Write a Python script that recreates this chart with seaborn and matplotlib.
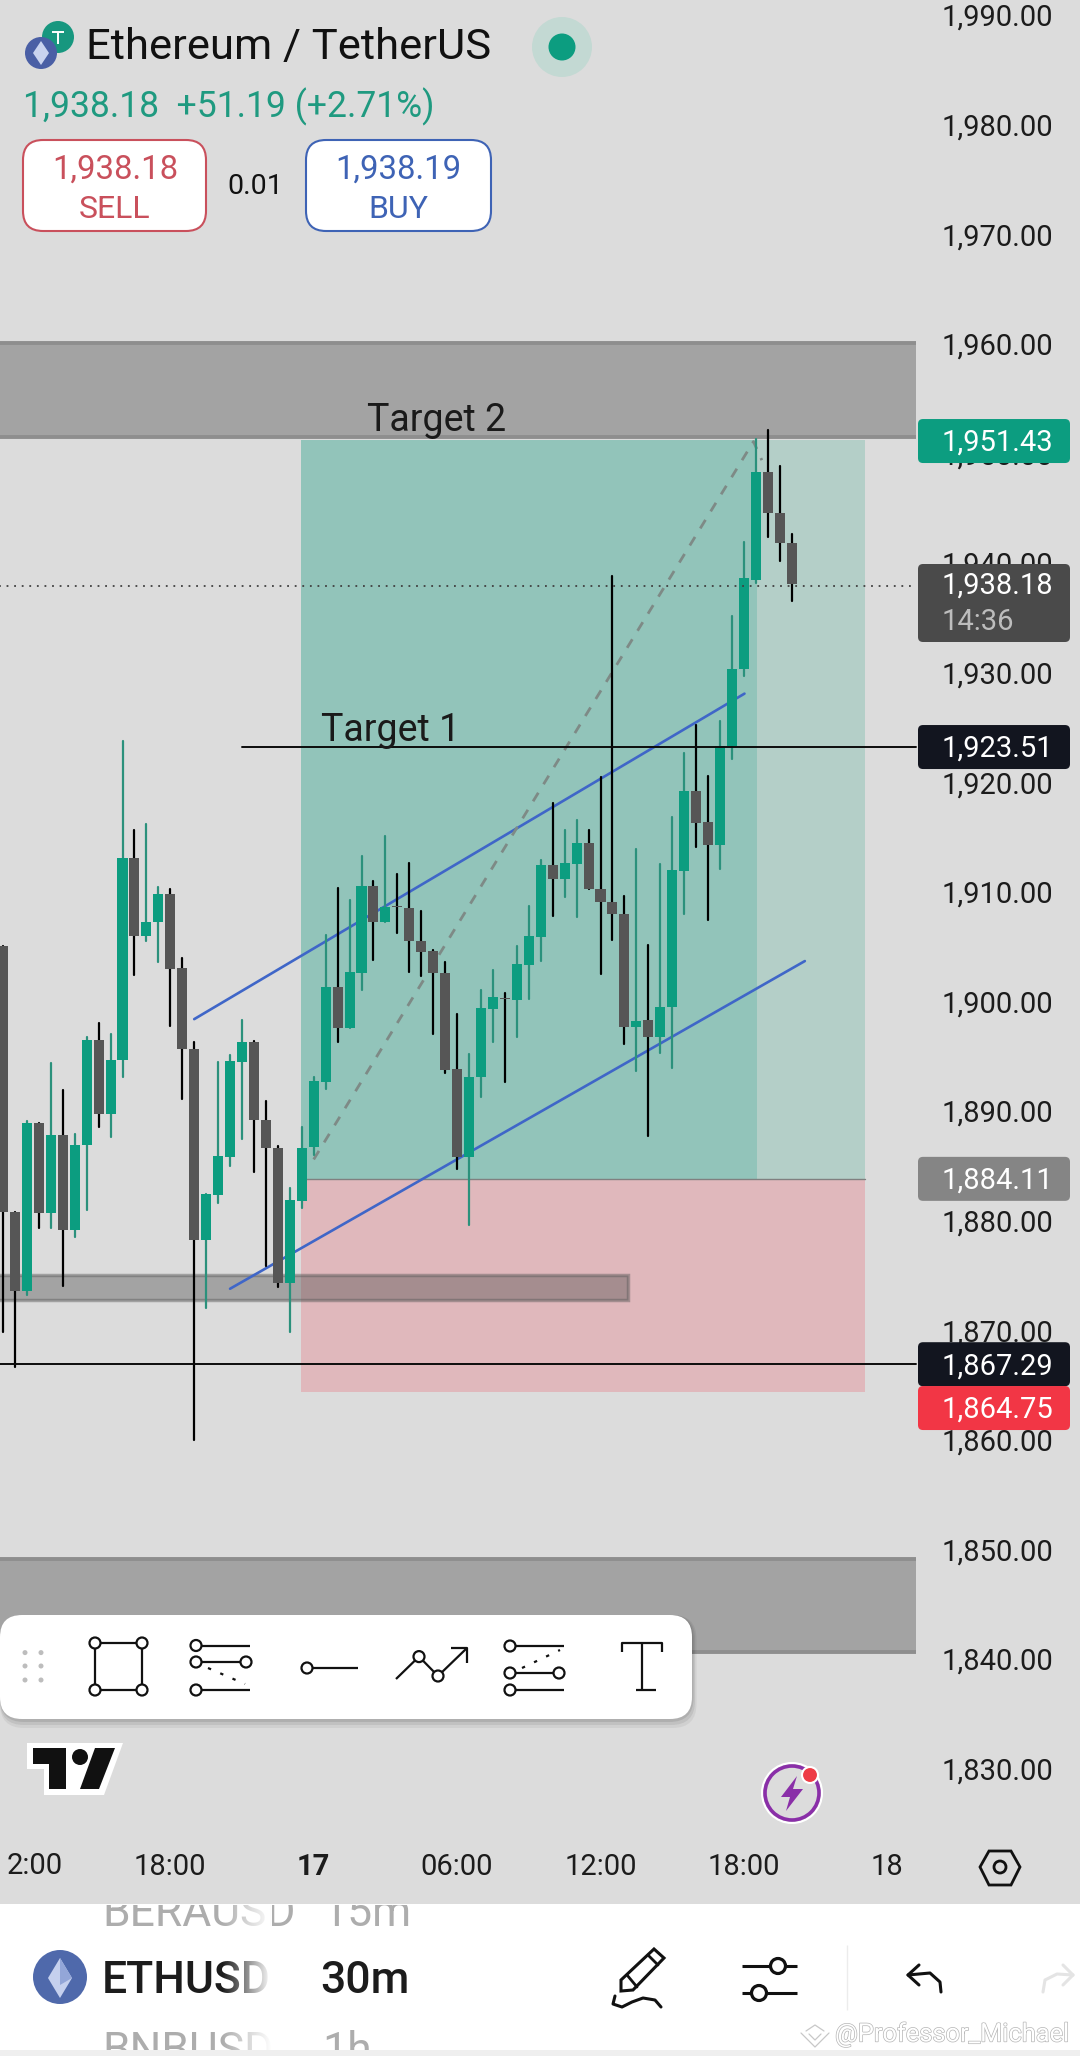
import matplotlib
matplotlib.use('Agg')
import matplotlib.pyplot as plt
import matplotlib.patheffects as pe
from matplotlib.patches import Circle, FancyBboxPatch, Polygon, Rectangle
import numpy as np
import pandas as pd
import seaborn as sns

# 30 minute candles
opens = [1905.14, 1880.90, 1873.70, 1889.01, 1880.78, 1887.95, 1879.24, 1887.01, 1896.59, 1889.87,
         1894.75, 1913.20, 1906.12, 1907.34, 1909.90, 1903.14, 1895.81, 1878.38, 1882.49, 1885.96,
         1894.63, 1896.38, 1889.34, 1886.73, 1874.39, 1881.92, 1886.81, 1892.80, 1901.41, 1897.73,
         1902.74, 1910.65, 1907.34, 1908.83, 1908.61, 1905.66, 1904.69, 1902.74, 1893.92, 1885.89,
         1893.25, 1899.46, 1900.46, 1900.28, 1903.47, 1906.03, 1912.54, 1911.32, 1912.69, 1914.54,
         1910.35, 1909.22, 1908.07, 1897.82, 1898.42, 1896.90, 1899.57, 1912.04, 1919.31, 1916.45,
         1914.42, 1923.42, 1930.42, 1938.57, 1948.43, 1944.72, 1941.98]
highs = [1905.14, 1880.90, 1889.25, 1889.01, 1894.47, 1892.02, 1888.03, 1896.91, 1898.13, 1897.16,
         1923.88, 1915.73, 1916.30, 1910.60, 1910.35, 1904.08, 1896.38, 1882.53, 1894.55, 1895.20,
         1898.42, 1896.50, 1891.05, 1886.89, 1883.06, 1888.64, 1893.25, 1906.15, 1910.44, 1909.37,
         1913.39, 1911.14, 1915.21, 1911.75, 1912.72, 1908.34, 1904.81, 1903.72, 1898.94, 1895.32,
         1901.16, 1902.99, 1900.86, 1905.18, 1908.83, 1913.02, 1918.19, 1915.76, 1916.67, 1915.76,
         1920.57, 1938.90, 1909.74, 1914.00, 1905.26, 1912.65, 1916.90, 1922.75, 1925.33, 1920.68,
         1925.70, 1935.29, 1942.04, 1951.43, 1952.26, 1948.97, 1942.77]
lows = [1869.99, 1866.77, 1873.29, 1879.40, 1879.40, 1874.18, 1878.58, 1881.11, 1888.64, 1887.75,
        1893.25, 1902.57, 1905.63, 1903.71, 1897.89, 1891.21, 1860.13, 1872.15, 1881.68, 1885.10,
        1887.54, 1884.57, 1875.98, 1874.02, 1869.91, 1881.31, 1886.11, 1892.16, 1896.45, 1897.73,
        1901.16, 1903.90, 1907.34, 1906.39, 1902.83, 1902.44, 1897.15, 1893.62, 1884.80, 1879.75,
        1891.43, 1896.42, 1892.77, 1896.90, 1900.37, 1903.84, 1907.94, 1909.65, 1907.85, 1910.35,
        1902.62, 1905.72, 1896.24, 1893.80, 1887.84, 1895.38, 1894.01, 1908.09, 1914.20, 1907.54,
        1912.20, 1922.27, 1929.81, 1938.33, 1942.53, 1940.34, 1936.66]
closes = [1880.90, 1873.70, 1889.01, 1880.78, 1887.95, 1879.24, 1887.01, 1896.59, 1889.87, 1894.75,
          1913.20, 1906.12, 1907.34, 1909.90, 1903.10, 1895.81, 1878.38, 1882.53, 1885.99, 1894.67,
          1896.38, 1889.34, 1886.73, 1874.39, 1882.00, 1886.73, 1892.86, 1901.41, 1897.73, 1902.77,
          1910.65, 1907.40, 1908.70, 1908.70, 1905.66, 1904.66, 1902.74, 1893.86, 1885.89, 1893.19,
          1899.49, 1900.49, 1900.34, 1903.50, 1906.09, 1912.54, 1911.32, 1912.72, 1914.54, 1910.35,
          1909.22, 1908.07, 1897.82, 1898.36, 1896.90, 1899.57, 1912.11, 1919.31, 1916.42, 1914.42,
          1923.42, 1930.45, 1938.75, 1948.43, 1944.72, 1941.98, 1938.18]

price_ticks = [1990, 1980, 1970, 1960, 1950, 1940, 1930, 1920, 1910, 1900, 1890, 1880, 1870, 1860, 1850, 1840, 1830]
time_ticks = [14, 26, 38, 50, 62, 74]
time_labels = ['18:00', '17', '06:00', '12:00', '18:00', '18']

tag_prices = [1951.43, 1923.51, 1884.11, 1867.29, 1864.75]
tag_colors = ['#0c9d80', '#12151f', '#858585', '#12151f', '#f23645']
tag_nudge = [2, 2, 2, 3, 19]
last_price = 1938.18

# levels as they lie on the picture's scale
last_level = 1938.0
target_1 = 1923.33
stop_line = 1867.05
pos_top, pos_entry, pos_stop = 1951.33, 1883.93, 1864.5

BG = '#dcdcdc'
GREEN = '#0c9d80'
GREEN_WICK = '#2b917c'
GREY_BODY = '#565656'
BLUE = '#3f66c8'
INK = '#111111'
PX_PER_PRICE = 10.96
PX_PER_BAR = 11.95


def py(price):
    return 1002.7 - (price - 1900) * PX_PER_PRICE


sns.set_theme(style='white', rc={'axes.facecolor': BG, 'figure.facecolor': BG})
plt.rcParams['font.family'] = ['Roboto', 'DejaVu Sans']
plt.rcParams['patch.force_edgecolor'] = False

fig = plt.figure(figsize=(10.8, 20.56), dpi=100)
ax = fig.add_axes([0, 0, 1, 1])
ax.set_xlim(-3 / PX_PER_BAR, 1077 / PX_PER_BAR)
ax.set_ylim(1900 - (2056 - 1002.7) / PX_PER_PRICE, 1900 + 1002.7 / PX_PER_PRICE)
chart_right = 913 / PX_PER_BAR

# zones and the long position
for low, high in [(1951.6, 1960.2), (1840.8, 1849.2)]:
    ax.add_patch(Rectangle((-1, low), chart_right + 1, high - low, fc='#a3a3a3', lw=0, zorder=1))
    ax.plot([-1, chart_right], [low, low], color='#8e8e8e', lw=2.8, solid_capstyle='butt', zorder=1.1)
    ax.plot([-1, chart_right], [high, high], color='#8e8e8e', lw=2.8, solid_capstyle='butt', zorder=1.1)
ax.add_patch(Rectangle((24.9, pos_entry), 38.2, pos_top - pos_entry, fc='#92c4ba', lw=0, zorder=1))
ax.add_patch(Rectangle((63.1, pos_entry), 9.0, pos_top - pos_entry, fc='#b4cfc8', lw=0, zorder=1))
ax.add_patch(Rectangle((24.9, pos_stop), 47.2, pos_entry - pos_stop, fc='#e0b8bc', lw=0, zorder=1))
ax.plot([24.9, 72.1], [pos_entry, pos_entry], color='#808080', lw=1, zorder=1.5)
ax.add_patch(Rectangle((-1, 1872.9), 53.3, 2.3, fc=(0.29, 0.29, 0.29, 0.39), ec=(0.35, 0.35, 0.35, 0.45), lw=2.5, zorder=1.6))

# channel and the dashed path
ax.plot([16, 62.05], [1898.5, 1928.2], color=BLUE, lw=1.9, zorder=2)
ax.plot([19, 67.1], [1873.9, 1903.8], color=BLUE, lw=1.9, zorder=2)
ax.plot([26, 62.8, 63.5], [1885.7, 1951.2, 1949.5], color='#7e8a86', lw=2, ls=(0, (3.6, 3.6)), zorder=2)

# candles: wicks through seaborn, bodies as bars
idx = np.arange(len(opens))
is_up = np.array(closes) >= np.array(opens)
wicks = pd.DataFrame({
    'i': np.tile(idx, 2),
    'price': lows + highs,
    'side': np.tile(np.where(is_up, 'up', 'down'), 2),
})
sns.lineplot(data=wicks, x='i', y='price', units='i', estimator=None, hue='side',
             palette={'up': GREEN_WICK, 'down': '#000000'}, linewidth=1.6, legend=False,
             sort=False, ax=ax, zorder=3)
bottoms = np.minimum(opens, closes)
heights = np.abs(np.array(closes) - np.array(opens))
ax.bar(idx, heights, bottom=bottoms, width=0.84, color=np.where(is_up, GREEN, GREY_BODY), lw=0, zorder=3.5)

# horizontal lines
ax.plot([20, chart_right], [target_1, target_1], color='#0c0c0c', lw=1.4, zorder=4)
ax.plot([-1, chart_right], [stop_line, stop_line], color='#0c0c0c', lw=1.4, zorder=4)
ax.plot([-1, chart_right], [last_level, last_level], color='#404040', lw=1.3, ls=(0, (1, 3.2)), zorder=4)
ax.text(36.3, 1953.15, 'Target 2', fontsize=27, color='#1a1a1a', ha='center', va='center', zorder=5)
ax.text(32.4, 1924.85, 'Target 1', fontsize=27, color='#1a1a1a', ha='center', va='center', zorder=5)

# axes
ax.yaxis.tick_right()
ax.set_yticks(np.array(price_ticks) + 0.12, [f'{p:,.2f}' for p in price_ticks])
ax.set_xticks(time_ticks, time_labels)
ax.tick_params(axis='y', length=0, pad=-99.4, labelsize=21, labelcolor='#1c1c1c')
ax.tick_params(axis='x', length=0, pad=-146, labelsize=21, labelcolor='#1c1c1c')
ax.get_xticklabels()[1].set_fontweight('bold')
ax.set_xlabel('')
ax.set_ylabel('')
sns.despine(ax=ax, left=True, right=True, top=True, bottom=True)

# everything of the app around the chart, in pixels
ui = fig.add_axes([0, 0, 1, 1], zorder=5)
ui.set_xlim(0, 1080)
ui.set_ylim(2056, 0)
ui.axis('off')


def box(x, y, w, h, r, fc, ec='none', lw=0, z=6):
    ui.add_patch(FancyBboxPatch((x, y), w, h, boxstyle=f'round,pad=0,rounding_size={r}', fc=fc, ec=ec, lw=lw, zorder=z))


def label(x, y, s, size, color, ha='center', **kw):
    return ui.text(x, y + 2, s, fontsize=size, color=color, ha=ha, va='center', zorder=9, **kw)


def stroke(xs, ys, lw=1.6, color=INK, **kw):
    ui.plot(xs, ys, color=color, lw=lw, solid_capstyle='butt', zorder=8, **kw)


def knob(x, y, r=5.5, lw=1.6):
    ui.add_patch(Circle((x, y), r, fc='white', ec=INK, lw=lw, zorder=8.5))


# price tags
label(35, 1864, '2:00', 21, '#1c1c1c')
for price, color, nudge in zip(tag_prices, tag_colors, tag_nudge):
    box(918, py(price) - 22 + nudge, 152, 44, 5, color)
    label(942, py(price) + nudge, f'{price:,.2f}', 21, 'white', ha='left')
box(918, 564, 152, 78, 5, '#4a4a4a')
label(942, 584, f'{last_price:,.2f}', 21, 'white', ha='left')
label(942, 620, '14:36', 21, '#bdbdbd', ha='left')

# header
ui.add_patch(Circle((58, 37), 16, fc='#17977f', zorder=7))
stroke([52, 64], [32, 32], 1.4, 'white')
stroke([58, 58], [32, 44], 1.4, 'white')
ui.add_patch(Circle((41, 53), 16, fc='#4a5fa5', zorder=8.2))
ui.add_patch(Polygon([(41, 41), (49, 53), (41, 65), (33, 53)], fc='#c9d3ef', zorder=8.4))
label(86, 46, 'Ethereum / TetherUS', 31.3, INK, ha='left')
ui.add_patch(Circle((562, 47), 30, fc='#c3d9d3', zorder=7))
ui.add_patch(Circle((562, 47), 13.5, fc=GREEN, zorder=7.2))
label(23, 105, '1,938.18  +51.19 (+2.71%)', 25.6, '#1f9a80', ha='left')
box(23, 140, 183, 91, 20, 'white', '#c9505c', 1.5)
label(115, 168, '1,938.18', 23.7, '#c9505c')
label(115, 207, 'SELL', 23, '#c9505c')
label(255, 184, '0.01', 20.5, INK)
box(306, 140, 185, 91, 20, 'white', '#3e63b5', 1.5)
label(398, 168, '1,938.19', 23.7, '#3e63b5')
label(398, 207, 'BUY', 23, '#3e63b5')

# drawing toolbar
for off, a in [(9, 0.05), (6, 0.07), (3, 0.09)]:
    box(0, 1615, 692 + off / 2, 104 + off, 24, (0, 0, 0, a), z=6)
box(0, 1615, 692, 104, 22, 'white', z=6.5)
for dx in [25, 41]:
    for dy in [1652.6, 1666, 1680]:
        ui.add_patch(Circle((dx, dy), 2.5, fc='#bdbdbd', zorder=8))
stroke([95, 142, 142, 95, 95], [1643, 1643, 1690, 1690, 1643])
for cx, cy in [(95, 1643), (142, 1643), (95, 1690), (142, 1690)]:
    knob(cx, cy)
stroke([196, 250], [1645.5, 1645.5])
stroke([196, 246], [1662, 1662])
stroke([196, 250], [1690, 1690])
ui.plot([208, 245], [1668, 1684], color=INK, lw=1.6, ls=(0, (1.5, 4.5)), zorder=8)
for cx, cy in [(196, 1645.5), (196, 1662), (246, 1662), (196, 1690)]:
    knob(cx, cy)
stroke([307, 358], [1668, 1668])
knob(307, 1668)
stroke([396, 419, 438, 467], [1679, 1656.6, 1676, 1648])
stroke([451, 467, 467], [1648, 1648, 1663])
knob(419, 1656.6)
knob(438, 1676)
stroke([510, 564], [1646, 1646])
stroke([510, 559], [1673, 1673])
stroke([510, 564], [1690, 1690])
ui.plot([522, 560], [1668, 1650], color=INK, lw=1.6, ls=(0, (1.5, 4.5)), zorder=8)
for cx, cy in [(510, 1646), (510, 1673), (559, 1673), (510, 1690)]:
    knob(cx, cy)
stroke([622, 622, 662, 662], [1652, 1643, 1643, 1652])
stroke([642, 642], [1643, 1690])
stroke([636, 656], [1690, 1690])

# tradingview mark
ui.add_patch(Polygon([(27, 1743), (123, 1743), (104, 1795), (44, 1795), (44, 1769), (27, 1769)], fc='white', zorder=7))
logo = [[(33, 1748), (66, 1748), (66, 1789), (49, 1789), (49, 1764), (33, 1764)],
        [(95, 1748), (115, 1748), (99, 1789), (80, 1789)]]
for pts in logo:
    ui.add_patch(Polygon(pts, fc=INK, zorder=7.5))
ui.add_patch(Circle((80, 1757), 8, fc=INK, zorder=7.5))

# replay button
ui.add_patch(Circle((792, 1793), 30, fc=BG, ec='white', lw=1.5, zorder=7))
ui.add_patch(Circle((792, 1793), 27, fc=BG, ec='#8a2fa8', lw=2.6, zorder=7.2))
ui.add_patch(Polygon([(797, 1776), (781, 1797), (790, 1797), (786, 1811), (803, 1789), (793, 1789)], fc='#8a2fa8', zorder=7.4))
ui.add_patch(Circle((810, 1775), 8, fc='#ee3b45', ec='white', lw=1.5, zorder=7.6))

# settings hexagon
ui.add_patch(Polygon([(980, 1867), (989, 1851), (1011, 1851), (1020, 1867), (1011, 1885), (989, 1885)],
                     fc='none', ec=INK, lw=2, zorder=7))
ui.add_patch(Circle((1000, 1867), 6, fc='none', ec=INK, lw=2, zorder=7))

# bottom panel
ui.add_patch(Rectangle((0, 1904), 1080, 148, fc='white', lw=0, zorder=6))
clip = Rectangle((0, 1905), 1080, 145, transform=ui.transData)
for y, sym, tf in [(1912, 'BERAUSD', '15m'), (2050, 'BNBUSD', '1h')]:
    for x, s in [(102, sym), (322, tf)]:
        t = label(x, y, s, 32, '#adadad', ha='left')
        t.set_clip_on(True)
        t.set_clip_path(clip)
label(102, 1979, 'ETHUSD', 32, '#1c1c1c', ha='left', fontweight='medium')
label(320, 1979, '30m', 32, '#1c1c1c', ha='left', fontweight='medium')
fade = np.ones((1, 64, 4))
fade[0, :, 3] = np.linspace(0, 1, 64)
ui.imshow(fade, extent=(222, 272, 2050, 1904), aspect='auto', zorder=9.5)
ui.set_xlim(0, 1080)
ui.set_ylim(2056, 0)
ui.add_patch(Circle((60, 1977), 27, fc='#4f69ab', zorder=8))
ui.add_patch(Polygon([(60, 1958), (72, 1978), (60, 1998), (48, 1978)], fc='#c5d0ee', zorder=8.2))
ui.add_patch(Polygon([(60, 1958), (72, 1978), (60, 1985)], fc='#93a6d8', zorder=8.4))

# pen, sliders, undo, redo
ui.add_patch(Polygon([(654, 1949), (664, 1958), (633, 1990), (621, 1991), (621, 1980)],
                     fc='white', ec=INK, lw=2.2, zorder=8))
ui.plot([648, 658], [1955, 1965], color=INK, lw=2, zorder=8.2)
ui.plot([627, 637], [1975, 1987], color=INK, lw=2, zorder=8.2)
ui.plot([615, 613, 622, 632, 643, 655, 661], [1996, 2004, 2007, 2002, 1998, 2000, 2007], color=INK, lw=2.2, zorder=8)
stroke([742, 797], [1966, 1966], 2.2)
stroke([742, 797], [1993, 1993], 2.2)
knob(778, 1966, 7.5, 2.3)
knob(759, 1993, 7.5, 2.3)
stroke([847, 847], [1945, 2010], 1, '#ececec')
ui.plot([919, 908, 919], [1965, 1975, 1985], color=INK, lw=2.2, zorder=8)
ui.plot([908, 930, 940, 941], [1975, 1973, 1982, 1992], color=INK, lw=2.2, zorder=8)
ui.plot([1063, 1073, 1063], [1965, 1975, 1985], color='#e4e4e4', lw=2.2, zorder=8)
ui.plot([1073, 1057, 1045, 1043], [1975, 1974, 1980, 1992], color='#e4e4e4', lw=2.2, zorder=8)

# watermark
ui.plot([801, 815, 829], [2033, 2047, 2033], color='#c8c8c8', lw=0.9, zorder=8)
ui.plot([806, 815, 824], [2031, 2025, 2031], color='#c8c8c8', lw=0.9, zorder=8)
ui.plot([809, 815, 821], [2034, 2040, 2034], color='#c8c8c8', lw=0.9, zorder=8)
mark = label(835, 2032, '@Professor_Michael', 18.3, 'white', ha='left')
mark.set_path_effects([pe.Stroke(linewidth=1.0, foreground='#b5b5b5'), pe.Normal()])
ui.add_patch(Rectangle((0, 2050), 1080, 6, fc='#efefef', lw=0, zorder=9.8))

fig.savefig('out.png', dpi=100)
